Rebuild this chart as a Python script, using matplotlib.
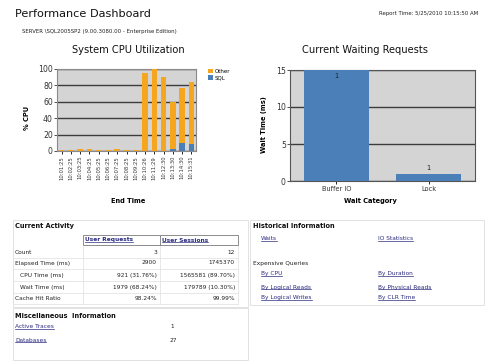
import matplotlib
matplotlib.use("Agg")
import matplotlib.pyplot as plt
from matplotlib.lines import Line2D
from matplotlib.patches import Rectangle
import numpy as np

# ---- data ----
end_times = ["10:01:25", "10:02:25", "10:03:25", "10:04:25", "10:05:25",
             "10:06:25", "10:07:25", "10:08:25", "10:09:25", "10:10:26",
             "10:11:29", "10:12:30", "10:13:30", "10:14:30", "10:15:31"]
cpu_sql = [0, 0, 0, 0, 0, 0, 0, 0, 0, 0, 0, 0, 2, 10, 9]
cpu_other = [1, 1, 2, 2, 1, 1, 2, 1, 1, 95, 100, 90, 58, 67, 75]

wait_categories = ["Buffer IO", "Lock"]
wait_time_ms = [15, 1]
wait_requests = [1, 1]

activity_rows = ["Count", "Elapsed Time (ms)", "CPU Time (ms)", "Wait Time (ms)", "Cache Hit Ratio"]
activity_indent = [False, False, True, True, False]
user_requests = ["3", "2900", "921 (31.76%)", "1979 (68.24%)", "98.24%"]
user_sessions = ["12", "1745370", "1565581 (89.70%)", "179789 (10.30%)", "99.99%"]

misc_labels = ["Active Traces", "Databases"]
misc_values = ["1", "27"]

hist_links = ["Waits", "IO Statistics"]
expensive_links = [["By CPU", "By Duration"],
                   ["By Logical Reads", "By Physical Reads"],
                   ["By Logical Writes", "By CLR Time"]]

# ---- style ----
W, H = 494, 363
orange = "#f5a51e"
blue = "#4a7fb8"
plot_bg = "#d4d4d4"
grid_c = "#3c3c3c"
link_c = "#2b2b80"
box_c = "#e2e2e2"

plt.rcParams["font.family"] = "DejaVu Sans"


def rect(l, t, r, b):
    return [l / W, 1 - b / H, (r - l) / W, (b - t) / H]


def fx(x):
    return x / W


def fy(y):
    return 1 - y / H


fig = plt.figure(figsize=(W / 100, H / 100), dpi=100)
fig.patch.set_facecolor("white")

links = []


def txt(x, y, s, size=4.2, link=False, **kw):
    t = fig.text(fx(x), fy(y), s, fontsize=size, va="center",
                 color=link_c if link else kw.pop("color", "#222222"), **kw)
    if link:
        links.append(t)
    return t


# header
txt(15, 14, "Performance Dashboard", size=8.1, color="#111111")
txt(22, 32, "SERVER \\SQL2005SP2 (9.00.3080.00 - Enterprise Edition)", size=3.9)
txt(478, 14, "Report Time: 5/25/2010 10:15:50 AM", size=3.9, ha="right")

# ---- CPU chart ----
ax1 = fig.add_axes(rect(57, 69, 196, 151))
x = np.arange(len(end_times))
ax1.set_facecolor(plot_bg)
ax1.bar(x, cpu_sql, width=0.6, color=blue, zorder=3, label="SQL")
ax1.bar(x, cpu_other, width=0.6, bottom=cpu_sql, color=orange, zorder=3, label="Other")
ax1.set_xlim(-0.5, len(end_times) - 0.5)
ax1.set_ylim(0, 100)
ax1.set_yticks([0, 20, 40, 60, 80, 100])
ax1.yaxis.grid(True, color=grid_c, linewidth=1.0, zorder=1)
ax1.set_xticks(x)
ax1.set_xticklabels(end_times, rotation=90, fontsize=3.8, color="#333333")
ax1.tick_params(axis="y", labelsize=5.6, colors="#333333", length=2, width=0.6, pad=1)
ax1.tick_params(axis="x", length=2, width=0.6, pad=1.5)
for s in ax1.spines.values():
    s.set_color("#8a8a8a")
    s.set_linewidth(0.8)
fig.text(fx(128), fy(50), "System CPU Utilization", fontsize=7.1, ha="center", va="center", color="#111111")
fig.text(fx(27), fy(118), "% CPU", fontsize=4.8, fontweight="bold", rotation=90, ha="center", va="center")
fig.text(fx(128), fy(201), "End Time", fontsize=4.8, fontweight="bold", ha="center", va="center")
h, l = ax1.get_legend_handles_labels()
fig.legend(h[::-1], l[::-1], loc="upper left", bbox_to_anchor=(fx(205), fy(66)),
           bbox_transform=fig.transFigure, frameon=False, fontsize=4,
           handlelength=0.9, handleheight=0.9, handletextpad=0.3, labelspacing=0.2,
           borderpad=0)

# ---- Wait chart ----
ax2 = fig.add_axes(rect(290, 70, 475, 181))
xw = np.arange(len(wait_categories))
ax2.set_facecolor(plot_bg)
bars = ax2.bar(xw, wait_time_ms, width=0.7, color=blue, zorder=3)
ax2.set_xlim(-0.5, len(wait_categories) - 0.5)
ax2.set_ylim(0, 15)
ax2.set_yticks([0, 5, 10, 15])
ax2.yaxis.grid(True, color=grid_c, linewidth=1.0, zorder=1)
ax2.set_xticks(xw)
ax2.set_xticklabels(wait_categories, fontsize=4.8, color="#333333")
ax2.tick_params(axis="y", labelsize=5.6, colors="#333333", length=2, width=0.6, pad=1)
ax2.tick_params(axis="x", length=2, width=0.6, pad=1.5)
for s in ax2.spines.values():
    s.set_color("#555555")
    s.set_linewidth(0.8)
for b, n, v in zip(bars, wait_requests, wait_time_ms):
    off = -4 if v >= 14 else 4
    ax2.annotate(str(n), (b.get_x() + b.get_width() / 2, v), xytext=(0, off),
                 textcoords="offset points", ha="center", va="center", fontsize=4.8,
                 color="#222222", zorder=4)
fig.text(fx(365), fy(50), "Current Waiting Requests", fontsize=7.1, ha="center", va="center", color="#111111")
fig.text(fx(264), fy(125), "Wait Time (ms)", fontsize=4.8, fontweight="bold", rotation=90, ha="center", va="center")
fig.text(fx(370), fy(201), "Wait Category", fontsize=4.8, fontweight="bold", ha="center", va="center")

# ---- panels ----
def box(l, t, r, b, ec=box_c, fc="none", lw=0.7):
    fig.patches.append(Rectangle((fx(l), fy(b)), (r - l) / W, (b - t) / H, transform=fig.transFigure,
                                 edgecolor=ec, facecolor=fc, linewidth=lw))


def hline(x0, x1, y, c="#e4e4e4", lw=0.6):
    fig.add_artist(Line2D([fx(x0), fx(x1)], [fy(y), fy(y)], color=c, linewidth=lw))


def vline(x, y0, y1, c="#e4e4e4", lw=0.6):
    fig.add_artist(Line2D([fx(x), fx(x)], [fy(y0), fy(y1)], color=c, linewidth=lw))


# Current Activity
box(13, 220, 248, 307)
txt(15, 226, "Current Activity", size=4.8, fontweight="bold", color="#111111")
box(83, 235, 160, 245, ec="#8c8c8c")
box(160, 235, 238, 245, ec="#8c8c8c")
txt(85, 240, "User Requests", size=4.2, link=True, fontweight="bold")
txt(162, 240, "User Sessions", size=4.2, link=True, fontweight="bold")
row_y = [252, 263, 275, 287, 298]
for i, (lab, ind, a, b) in enumerate(zip(activity_rows, activity_indent, user_requests, user_sessions)):
    y = row_y[i]
    txt(20 if ind else 15, y, lab)
    txt(157, y, a, ha="right")
    txt(235, y, b, ha="right")
    hline(13, 238, y + 6)
for xv in [83, 160, 238]:
    vline(xv, 246, 304)

# Miscellaneous
box(13, 308, 248, 360)
txt(15, 316, "Miscellaneous  Information", size=4.8, fontweight="bold", color="#111111")
for lab, val, y in zip(misc_labels, misc_values, [327, 340]):
    txt(15, y, lab, link=True)
    txt(170, y, val)

# Historical
box(250, 220, 484, 305)
txt(253, 226, "Historical Information", size=4.8, fontweight="bold", color="#111111")
txt(261, 239, hist_links[0], link=True)
txt(378, 239, hist_links[1], link=True)
txt(253, 263, "Expensive Queries")
for (a, b), y in zip(expensive_links, [274, 287, 298]):
    txt(261, y, a, link=True)
    txt(378, y, b, link=True)

# underline the link texts
fig.canvas.draw()
r = fig.canvas.get_renderer()
for t in links:
    bb = t.get_window_extent(r)
    yy = (bb.y0 + 1.0) / H
    fig.add_artist(Line2D([bb.x0 / W, bb.x1 / W], [yy, yy], color=link_c, linewidth=0.5))

fig.savefig("out.png", dpi=100)
